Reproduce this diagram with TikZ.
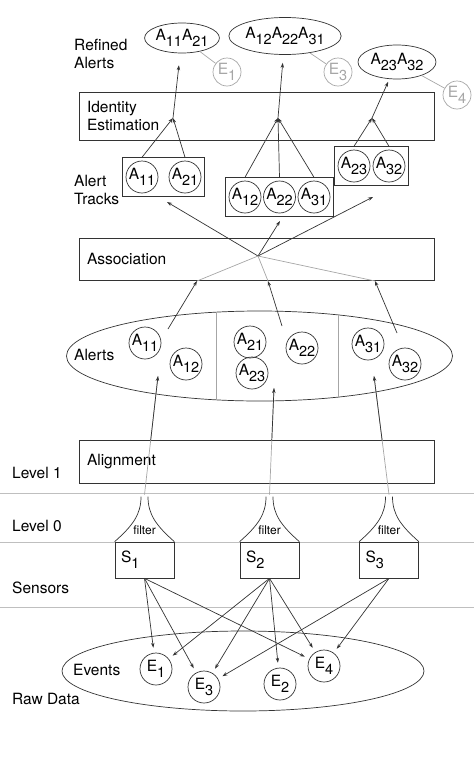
\documentclass[tikz,border=0pt]{standalone}
\usepackage{fontspec}
\setmainfont{TeX Gyre Heros}
\usetikzlibrary{arrows.meta,positioning,calc,fit,shapes.geometric}

\newcommand{\lowidx}[2]{#1\raisebox{-0.7ex}{\fontsize{14.5}{14.5}\selectfont #2}}

\begin{document}
\begin{tikzpicture}[x=1pt,y=-1pt,
  >={Stealth[length=5pt,width=3.5pt]},
  every node/.style={font=\fontsize{15.5}{18}\selectfont},
  wire/.style={draw=black!80,line width=0.7pt},
  faint/.style={draw=black!35,line width=0.7pt},
  stage/.style={wire,minimum width=355pt,text width=339pt,inner xsep=8pt,align=left},
  alertnode/.style={wire,circle,minimum size=32pt,inner sep=0pt},
  track/.style={wire,inner sep=3pt},
  refined/.style={wire,ellipse,inner sep=0pt},
  ghost/.style={faint,circle,minimum size=28pt,inner sep=0pt,text=black!35},
  sensor/.style={wire,minimum width=59pt,minimum height=36pt,text width=47pt,inner xsep=6pt,inner ysep=0pt,align=left},
  tag/.style={anchor=west,align=left,inner sep=0pt},
  levelline/.style={draw=black!25,line width=1pt}]
\useasboundingbox (0,0) rectangle (474,758);

% level separators
\draw[levelline] (0,493) -- (474,493);
\draw[levelline] (0,542) -- (474,542);
\draw[levelline] (0,607) -- (474,607);

% left column labels
\node[tag] (refinedlbl) at (74,54) {Refined\\Alerts};
\node[tag] (trackslbl) at (74,190) {Alert\\Tracks};
\node[tag] (lvl1) at (12,473) {Level 1};
\node[tag] (lvl0) at (12,526) {Level 0};
\node[tag] (sensorslbl) at (12,588) {Sensors};
\node[tag] (rawlbl) at (12,699) {Raw Data};

% processing stages
\node[stage,minimum height=48pt] (ident) at (256.5,116) {Identity\\Estimation};
\node[stage,minimum height=42pt] (assoc) at (256.5,259) {Association};
\node[stage,minimum height=43pt] (alignbox) at (256.5,461.5) {Alignment};

% refined alerts
\node[refined,minimum width=74pt,minimum height=30pt] (r1) at (182,38) {\lowidx{A}{11}\lowidx{A}{21}};
\node[refined,minimum width=108pt,minimum height=37pt] (r2) at (285,36) {\lowidx{A}{12}\lowidx{A}{22}\lowidx{A}{31}};
\node[refined,minimum width=78pt,minimum height=34pt] (r3) at (397,62) {\lowidx{A}{23}\lowidx{A}{32}};
\node[ghost] (ge1) at (227,72) {\lowidx{E}{1}};
\node[ghost] (ge3) at (338,72) {\lowidx{E}{3}};
\node[ghost] (ge4) at (457,95) {\lowidx{E}{4}};
\draw[faint] (r1) -- (ge1);
\draw[faint] (r2) -- (ge3);
\draw[faint] (r3) -- (ge4);

% alert tracks
\node[alertnode] (t11) at (142,177) {\lowidx{A}{11}};
\node[alertnode] (t21) at (185,177) {\lowidx{A}{21}};
\node[alertnode] (t12) at (245,197) {\lowidx{A}{12}};
\node[alertnode] (t22) at (279.5,197) {\lowidx{A}{22}};
\node[alertnode] (t31) at (314,197) {\lowidx{A}{31}};
\node[alertnode] (t23) at (354,166) {\lowidx{A}{23}};
\node[alertnode] (t32) at (389,166) {\lowidx{A}{32}};
\node[track,fit=(t11)(t21)] (tr1) {};
\node[track,fit=(t12)(t31)] (tr2) {};
\node[track,fit=(t23)(t32)] (tr3) {};

% identity estimation merges
\coordinate (m1) at (173,118);
\coordinate (m2) at (278,118);
\coordinate (m3) at (372,118);
\foreach \t/\b/\m in {t11/tr1/m1,t21/tr1/m1,t12/tr2/m2,t22/tr2/m2,t31/tr2/m2,t23/tr3/m3,t32/tr3/m3}
  \draw[wire,->] (\t |- \b.north) -- (\m);
\draw[wire,->,shorten >=12pt] (m1) -- (r1);
\draw[wire,->,shorten >=8pt] (m2) -- (r2);
\draw[wire,->,shorten >=3pt] (m3) -- (r3);

% association
\coordinate (hub) at (258,256);
\coordinate (up1) at (167,202);
\coordinate (up2) at (280,221);
\coordinate (up3) at (373,197);
\coordinate (in1) at (197,281);
\coordinate (in2) at (268,281);
\coordinate (in3) at (375,281);
\foreach \u in {up1,up2,up3}
  \draw[wire,->] (hub) -- (\u);
\foreach \i in {in1,in2,in3}
  \draw[faint] (\i) -- (hub);

% alerts
\node[wire,ellipse,minimum width=386pt,minimum height=90pt,inner sep=0pt] (alerts) at (259.5,356) {};
\draw[faint] (216,312) -- (216,400);
\draw[faint] (338,314) -- (338,398);
\node[tag] (alertslbl) at (74,355) {Alerts};
\node[alertnode] (a11) at (145,343) {\lowidx{A}{11}};
\node[alertnode] (a12) at (186,364) {\lowidx{A}{12}};
\node[alertnode] (a21) at (250,342) {\lowidx{A}{21}};
\node[alertnode] (a23) at (252,373) {\lowidx{A}{23}};
\node[alertnode] (a22) at (302,348) {\lowidx{A}{22}};
\node[alertnode] (a31) at (368,344) {\lowidx{A}{31}};
\node[alertnode] (a32) at (405,364) {\lowidx{A}{32}};
\coordinate (out1) at (168,329);
\coordinate (out2) at (282,326);
\coordinate (out3) at (397,333);
\foreach \o/\i in {out1/in1,out2/in2,out3/in3}
  \draw[wire,->] (\o) -- (\i);
\coordinate (ain1) at (158,376);
\coordinate (ain2) at (274,388);
\coordinate (ain3) at (374,376);

% sensors with filters
\node[sensor] (s1) at (144.5,560) {\lowidx{S}{1}};
\node[sensor] (s2) at (269.5,560) {\lowidx{S}{2}};
\node[sensor] (s3) at (389,560) {\lowidx{S}{3}};
\foreach \s/\a/\f in {s1/ain1/0.46,s2/ain2/0.51,s3/ain3/0.46}{
  \draw[wire] (\s.north west) .. controls +(18,-16) and +(0,18) .. ($(\s.north)+(-3.5,-45)$);
  \draw[wire] (\s.north east) .. controls +(-18,-16) and +(0,18) .. ($(\s.north)+(3.5,-45)$);
  \node[font=\fontsize{12}{12}\selectfont] (\s-filter) at ($(\s.north)+(0,-11)$) {filter};
  \coordinate (\s-top) at ($(\s.north)+(0,-47)$);
  \draw[faint] (\s-top) -- (\a);
  \draw[wire,->] ($(\s-top)!\f!(\a)$) -- (\a);
}

% raw data
\node[wire,ellipse,minimum width=362pt,minimum height=80pt,inner sep=0pt] (events) at (243,671) {};
\node[tag] (eventslbl) at (73,670) {Events};
\node[alertnode] (e1) at (156,669) {\lowidx{E}{1}};
\node[alertnode] (e3) at (204,687) {\lowidx{E}{3}};
\node[alertnode] (e2) at (280,684) {\lowidx{E}{2}};
\node[alertnode] (e4) at (324,666) {\lowidx{E}{4}};
\foreach \s/\e in {s1/e1,s1/e3,s1/e4,s2/e1,s2/e3,s2/e2,s2/e4,s3/e3,s3/e4}
  \draw[wire,->,shorten >=5pt] (\s.south) -- (\e);
\end{tikzpicture}
\end{document}
